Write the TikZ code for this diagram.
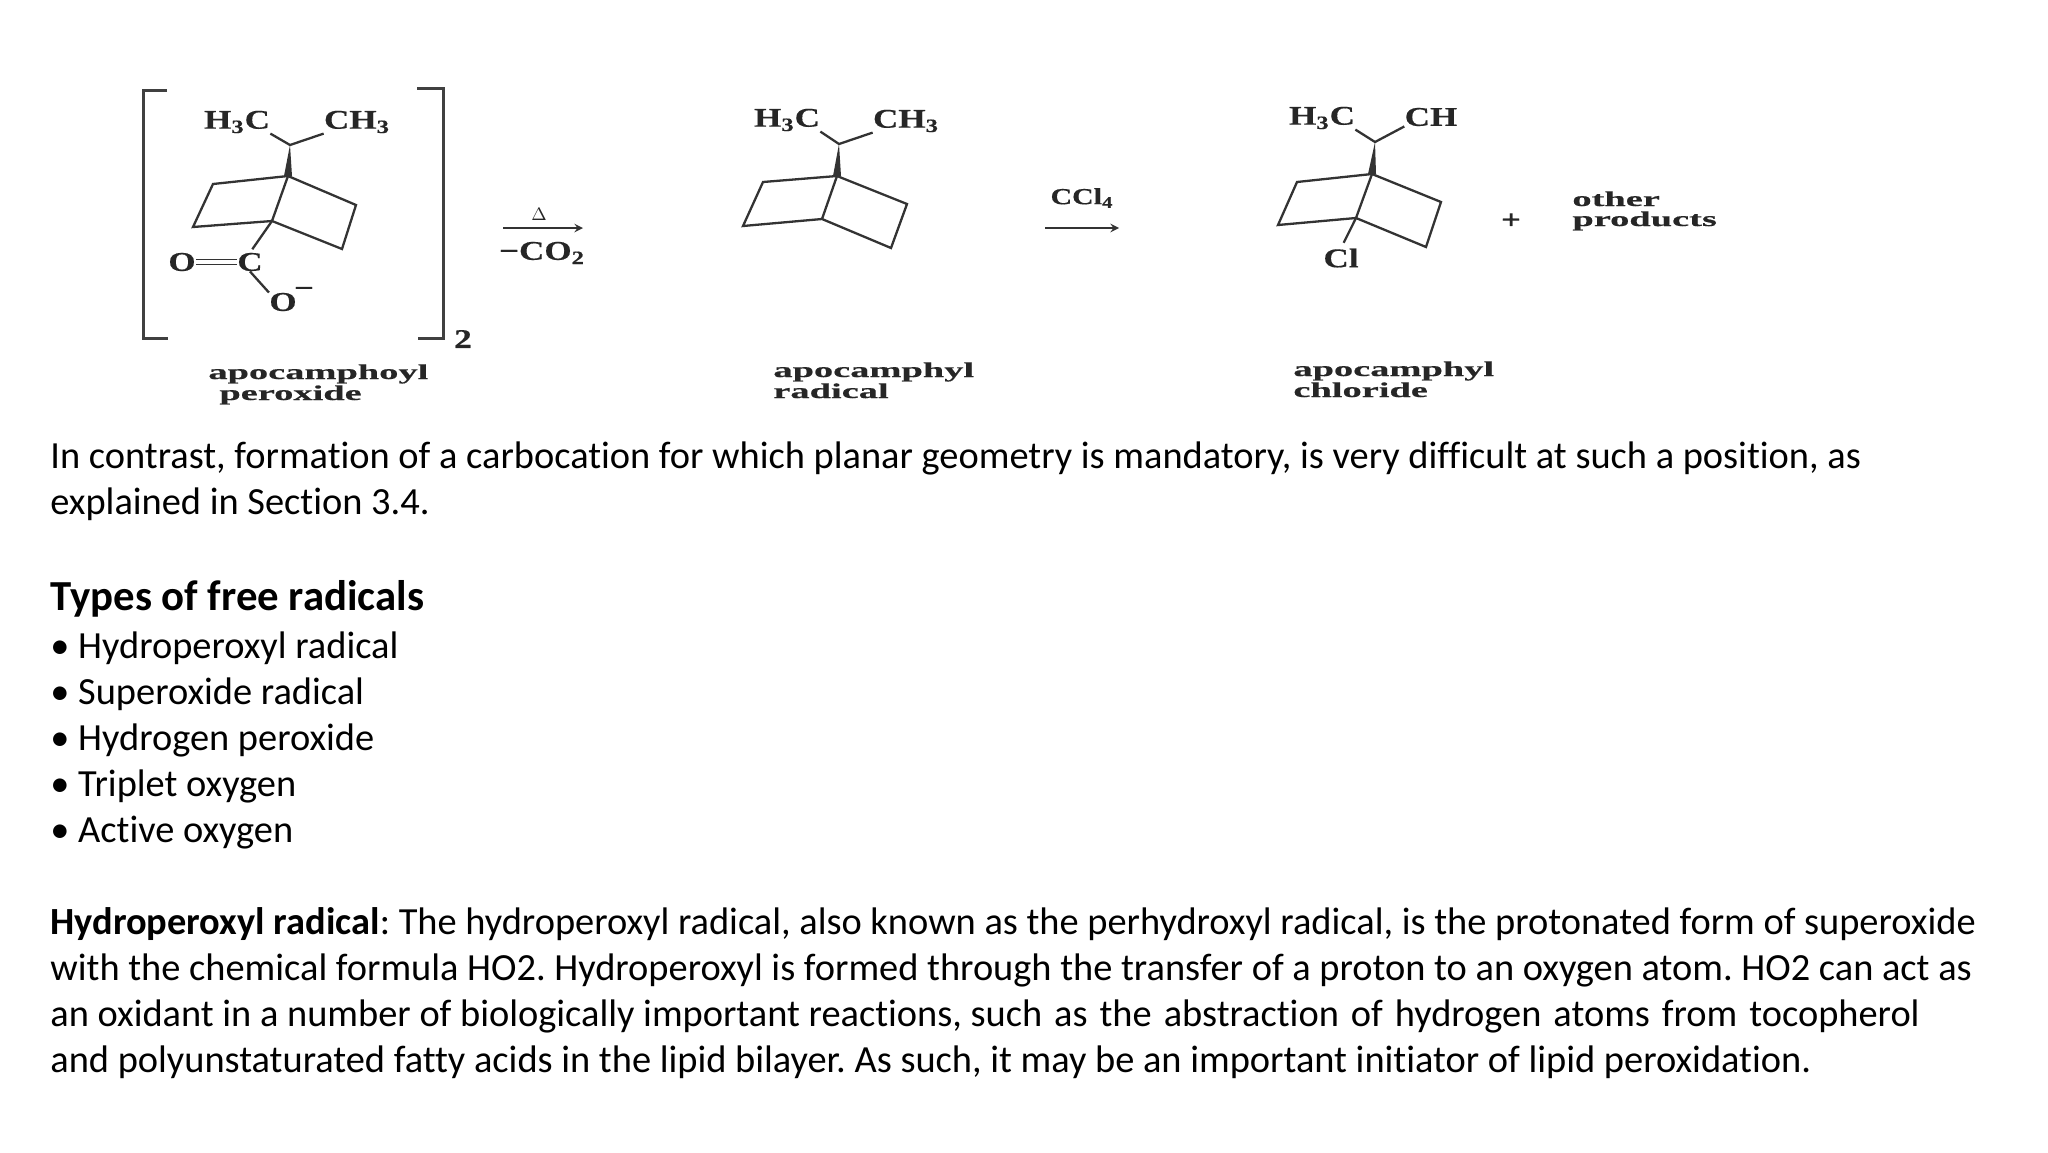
\documentclass[tikz,border=0pt]{standalone}
\usepackage{fontspec}
\setmainfont[Ligatures=NoCommon]{Carlito}
\newfontfamily\chemfont[FakeStretch=1.3,BoldFeatures={FakeBold=0.4}]{Liberation Serif}
\newfontfamily\captfont[FakeStretch=1.83,BoldFeatures={FakeBold=0.6}]{Liberation Serif}
\usetikzlibrary{arrows,positioning,calc}

\begin{document}
\frenchspacing
\begin{tikzpicture}[
        x=0.5pt, y=-0.5pt,
        atom/.style={inner sep=0pt, font=\chemfont\bfseries\fontsize{13.5}{14}\selectfont, text=black!85},
        capt/.style={inner sep=0pt, anchor=base west, font=\captfont\bfseries\fontsize{10.5}{12}\selectfont, text=black!85},
        bond/.style={line width=1.15pt, black!80, line join=miter},
        bracket/.style={line width=1.5pt, black!75, line join=miter},
        arrow/.style={->, line width=0.9pt, black!80, >=stealth},
        para/.style={inner sep=0pt, anchor=north west, align=left, font=\fontsize{19.2}{23}\selectfont}
    ]
    \useasboundingbox (0,0) rectangle (2048,1152);

    % Peroxide
    \coordinate (top1) at (290,145);
    \coordinate (br1) at (288,176);
    \coordinate (bl1) at (272,221);
    \coordinate (la1) at (213,184);
    \coordinate (lb1) at (193,227);
    \coordinate (ra1) at (356,205);
    \coordinate (rb1) at (342,249);
    \node[atom] (hl1) at (237,122) {H\textsubscript{3}C};
    \node[atom] (ch1) at (357,122) {CH\textsubscript{3}};
    \node[atom] (co1) at (250,262) {C};
    \node[atom] (ox1) at (182,262) {O};
    \node[atom] (on1) at (283,302) {O};
    \node[atom] (mn1) at (304,292) {−};
    \draw[bond] (hl1.south east) -- (top1) -- (ch1.south west);
    \fill[black!80] ($(br1)+(-4,0)$) -- (top1) -- ($(br1)+(4,0)$) -- cycle;
    \draw[bond] (br1) -- (bl1);
    \draw[bond] (br1) -- (la1) -- (lb1) -- (bl1) -- (rb1) -- (ra1) -- (br1);
    \draw[bond, shorten >=2pt] (bl1) -- (co1.north);
    \draw[bond, line width=0.8pt, double, double distance=1.6pt] (ox1.east) -- (co1.west);
    \draw[bond] (co1.south) -- (on1.north west);

    % Brackets
    \coordinate (lbt) at (167,90);
    \coordinate (lbb) at (168,338);
    \coordinate (rbt) at (417,88);
    \coordinate (rbb) at (418,338);
    \draw[bracket] (lbt) -- (143,90) -- (143,338) -- (lbb);
    \draw[bracket] (rbt) -- (443,88) -- (443,338) -- (rbb);
    \node[atom] (two) at (463,339) {2};

    % Radical
    \coordinate (top2) at (839,144);
    \coordinate (br2) at (837,176);
    \coordinate (bl2) at (822,219);
    \coordinate (la2) at (763,182);
    \coordinate (lb2) at (743,226);
    \coordinate (ra2) at (907,204);
    \coordinate (rb2) at (891,248);
    \node[atom] (hl2) at (787,120) {H\textsubscript{3}C};
    \node[atom] (ch2) at (906,121) {CH\textsubscript{3}};
    \draw[bond] (hl2.south east) -- (top2) -- (ch2.south west);
    \fill[black!80] ($(br2)+(-4,0)$) -- (top2) -- ($(br2)+(4,0)$) -- cycle;
    \draw[bond] (br2) -- (bl2);
    \draw[bond] (br2) -- (la2) -- (lb2) -- (bl2) -- (rb2) -- (ra2) -- (br2);

    % Chloride
    \coordinate (top3) at (1375,142);
    \coordinate (br3) at (1372,174);
    \coordinate (bl3) at (1356,218);
    \coordinate (la3) at (1297,182);
    \coordinate (lb3) at (1278,225);
    \coordinate (ra3) at (1441,202);
    \coordinate (rb3) at (1426,247);
    \node[atom] (hl3) at (1322,118) {H\textsubscript{3}C};
    \node[atom] (ch3) at (1431,117) {CH};
    \node[atom] (cl3) at (1341,258) {Cl};
    \draw[bond] (hl3.south east) -- (top3) -- (ch3.south west);
    \fill[black!80] ($(br3)+(-4,0)$) -- (top3) -- ($(br3)+(4,0)$) -- cycle;
    \draw[bond] (br3) -- (bl3);
    \draw[bond] (br3) -- (la3) -- (lb3) -- (bl3) -- (rb3) -- (ra3) -- (br3);
    \draw[bond, shorten >=3pt] (bl3) -- (cl3.north);
    \node[atom] (plus) at (1511,221) {+};

    % Reaction arrows
    \coordinate (a1) at (503,228);
    \coordinate (a2) at (583,228);
    \coordinate (b1) at (1045,228);
    \coordinate (b2) at (1119,228);
    \draw[arrow] (a1) -- (a2);
    \draw[arrow] (b1) -- (b2);
    \node[atom] (heat) at (539,214) {$\scriptstyle\Delta$};
    \node[atom] (coo) at (542,253) {−CO\textsubscript{2}};
    \node[atom, font=\chemfont\bfseries\fontsize{11.5}{12}\selectfont] (ccl) at (1082,198) {CCl\textsubscript{4}};

    % Captions
    \node[capt] (c1a) at (208,379) {apocamphoyl};
    \node[capt] (c1b) at (219,400) {peroxide};
    \node[capt] (c2a) at (773,377) {apocamphyl};
    \node[capt] (c2b) at (773,398) {radical};
    \node[capt] (c3a) at (1293,376) {apocamphyl};
    \node[capt] (c3b) at (1293,397) {chloride};
    \node[capt] (c4a) at (1572,206) {other};
    \node[capt] (c4b) at (1572,226) {products};

    % Text
    \node[para] (intro) at (50,441) {In contrast, formation of a carbocation for which planar geometry is mandatory, is very difficult at such a position, as\\explained in Section 3.4.};
    \node[para, font=\bfseries\fontsize{21.4}{24}\selectfont] (types) at (50,580) {Types of free radicals};
    \node[para] (list) at (50,631) {• Hydroperoxyl radical\\• Superoxide radical\\• Hydrogen peroxide\\• Triplet oxygen\\• Active oxygen};
    \node[para] (hydro) at (50,907) {\textbf{Hydroperoxyl radical}: The hydroperoxyl radical, also known as the perhydroxyl radical, is the protonated form of superoxide\\with the chemical formula HO2. Hydroperoxyl is formed through the transfer of a proton to an oxygen atom. HO2 can act as\\an oxidant in a number of biologically important reactions, {\spaceskip=6pt\relax such as the abstraction of hydrogen atoms from tocopherol}\\and polyunstaturated fatty acids in the lipid bilayer. As such, it may be an important initiator of lipid peroxidation.};

    \end{tikzpicture}
\end{document}
